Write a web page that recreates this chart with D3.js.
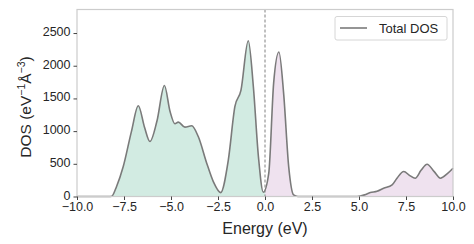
<!DOCTYPE html>
<html>
<head>
<meta charset="utf-8">
<script src="https://cdn.jsdelivr.net/npm/d3@7"></script>
<style>
  body { margin: 0; background: #fff; }
  text { font-family: "Liberation Sans", Arial, sans-serif; fill: #262626; }
</style>
</head>
<body>
<div id="chart"></div>
<script>
// energy (eV) and total DOS
let energy = [-10, -8.3, -8.15, -7.9, -7.54, -7.1, -6.74, -6.4, -6.12, -5.75, -5.35, -5.05,
  -4.79, -4.61, -4.26, -3.9, -3.55, -3.1, -2.75, -2.36, -1.95, -1.6, -1.28, -0.89,
  -0.62, -0.35, -0.09, 0.2, 0.46, 0.74, 0.99, 1.26, 1.52, 1.75, 4.9, 5.3, 5.6, 5.96,
  6.31, 6.76, 7.02, 7.38, 7.7, 7.99, 8.3, 8.62, 9.0, 9.33, 9.7, 10];
let dos = [0, 0, 5, 150, 458, 1000, 1387, 1050, 841, 1150, 1698, 1300,
  1112, 1138, 1061, 1081, 917, 510, 228, 60, 560, 1377, 1622, 2383,
  1683, 611, 66, 357, 1735, 2210, 1582, 458, 25, 0, 0, 25, 60, 80,
  127, 178, 280, 382, 320, 280, 400, 494, 380, 280, 350, 433];
let xTicks = [-10, -7.5, -5, -2.5, 0, 2.5, 5, 7.5, 10];
let yTicks = [0, 500, 1000, 1500, 2000, 2500];

let width = 474, height = 244;
let margin = { left: 77, right: 21, top: 9.5, bottom: 47.5 };

let svg = d3.select("#chart").append("svg")
  .attr("width", width).attr("height", height);

let x = d3.scaleLinear().domain([-10, 10]).range([margin.left, width - margin.right]);
let y = d3.scaleLinear().domain([0, 2860]).range([height - margin.bottom, margin.top]);

let pts = energy.map((e, i) => ({ e: e, v: dos[i] }));

// clip regions: occupied (E<0) and empty (E>0)
let defs = svg.append("defs");
defs.append("clipPath").attr("id", "occ").append("rect")
  .attr("x", x(-10)).attr("y", margin.top)
  .attr("width", x(0) - x(-10)).attr("height", y(0) - margin.top);
defs.append("clipPath").attr("id", "emp").append("rect")
  .attr("x", x(0)).attr("y", margin.top)
  .attr("width", x(10) - x(0)).attr("height", y(0) - margin.top);

let area = d3.area().curve(d3.curveMonotoneX)
  .x(d => x(d.e)).y0(y(0)).y1(d => y(d.v));
let line = d3.line().curve(d3.curveMonotoneX)
  .x(d => x(d.e)).y(d => y(d.v));

svg.append("path").datum(pts).attr("d", area)
  .attr("fill", "#d2ebe2").attr("clip-path", "url(#occ)");
svg.append("path").datum(pts).attr("d", area)
  .attr("fill", "#efe2ef").attr("clip-path", "url(#emp)");
svg.append("path").datum(pts).attr("d", line)
  .attr("fill", "none").attr("stroke", "#7a7a7a").attr("stroke-width", 1.6);

// fermi level
svg.append("line")
  .attr("x1", x(0)).attr("x2", x(0))
  .attr("y1", margin.top).attr("y2", y(0))
  .attr("stroke", "#808080").attr("stroke-width", 1)
  .attr("stroke-dasharray", "3,2");

// frame
svg.append("rect")
  .attr("x", margin.left).attr("y", margin.top)
  .attr("width", x(10) - x(-10)).attr("height", y(0) - margin.top)
  .attr("fill", "none").attr("stroke", "#cccccc").attr("stroke-width", 1.2);

let fmtX = d => d3.format(".1f")(d).replace("-", "\u2212");

let xAxis = svg.append("g")
  .attr("transform", "translate(0," + y(0) + ")")
  .call(d3.axisBottom(x).tickValues(xTicks).tickFormat(fmtX).tickSize(3.5).tickPadding(2.5));
let yAxis = svg.append("g")
  .attr("transform", "translate(" + margin.left + ",0)")
  .call(d3.axisLeft(y).tickValues(yTicks).tickFormat(d3.format("d")).tickSize(3.5).tickPadding(3));

[xAxis, yAxis].forEach(g => {
  g.select(".domain").remove();
  g.selectAll(".tick line").attr("stroke", "#444").attr("stroke-width", 1);
  g.selectAll(".tick text").attr("font-size", "12.5px")
    .attr("font-family", "Liberation Sans, Arial, sans-serif").attr("fill", "#262626");
});
yAxis.selectAll(".tick text").attr("dy", "0.2em");

svg.append("text")
  .attr("x", x(0)).attr("y", 234)
  .attr("text-anchor", "middle").attr("font-size", "16px")
  .text("Energy (eV)");

let yl = svg.append("text")
  .attr("transform", "translate(31," + ((margin.top + y(0)) / 2 + 4) + ") rotate(-90)")
  .attr("text-anchor", "middle").attr("font-size", "15.5px");
yl.append("tspan").text("DOS (eV");
yl.append("tspan").attr("dy", -6).attr("font-size", "10.5px").text("\u22121");
yl.append("tspan").attr("dy", 6).text("\u00c5");
yl.append("tspan").attr("dy", -6).attr("font-size", "10.5px").text("\u22123");
yl.append("tspan").attr("dy", 6).text(")");

// legend
let lg = svg.append("g");
lg.append("rect")
  .attr("x", 335).attr("y", 16.5).attr("width", 112).attr("height", 23.5)
  .attr("rx", 2).attr("fill", "#fff").attr("stroke", "#d6d6d6").attr("stroke-width", 1);
lg.append("line")
  .attr("x1", 340).attr("x2", 367).attr("y1", 28).attr("y2", 28)
  .attr("stroke", "#7a7a7a").attr("stroke-width", 1.6);
lg.append("text")
  .attr("x", 379).attr("y", 32.5).attr("font-size", "13px")
  .text("Total DOS");
</script>
</body>
</html>
